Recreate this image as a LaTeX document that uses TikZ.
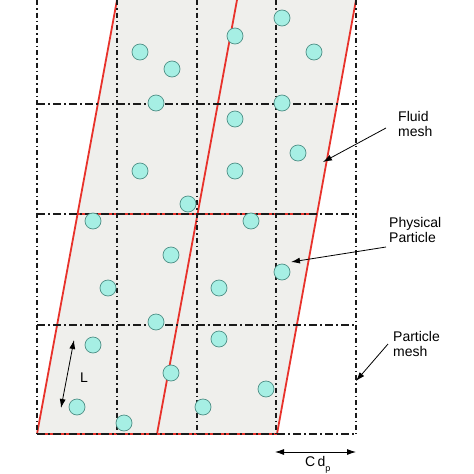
\documentclass[tikz,border=0pt]{standalone}
\usepackage{fontspec}
\setmainfont{Liberation Sans}
\usetikzlibrary{arrows.meta}
\definecolor{cellfill}{HTML}{EFEFEC}
\definecolor{partfill}{HTML}{A6EFE4}
\definecolor{partdraw}{HTML}{4E8F86}
\definecolor{meshred}{HTML}{E8322B}
\definecolor{gridcol}{HTML}{1A1A1A}
\begin{document}
\begin{tikzpicture}[x=1pt,y=-1pt,
 particle/.style={circle,draw=partdraw,fill=partfill,line width=0.7pt,minimum size=16pt,inner sep=0pt},
 hgrid/.style={gridcol,line width=1.3pt,dash pattern=on 8pt off 3pt on 2pt off 3pt},
 vgrid/.style={gridcol,line width=1.1pt,dash pattern=on 5pt off 3pt on 1.5pt off 3pt},
 fluidline/.style={meshred,line width=1.8pt},
 caption/.style={font=\fontsize{14}{15}\selectfont,align=left,inner sep=0pt,anchor=north west},
 pointer/.style={-{Latex[length=9pt,width=6pt]},line width=0.8pt},
 dimarrow/.style={{Latex[length=9pt,width=6pt]}-{Latex[length=9pt,width=6pt]},line width=0.8pt},
]
\useasboundingbox (0,0) rectangle (474,474);
% fluid region fill
\fill[cellfill] (37,434) -- (277,434) -- (356,0) -- (117,0) -- cycle;
% fluid mesh (red)
\draw[fluidline] (37,434) -- (117,0);
\draw[fluidline] (157,434) -- (237,0);
\draw[fluidline] (277,434) -- (356,0);
\draw[fluidline] (37,434) -- (277,434);
\draw[fluidline] (77.5,214) -- (317.5,214);
% particle mesh (black dash-dot)
\foreach \x in {37,117,197,276,356} \draw[vgrid] (\x,0) -- (\x,434);
\foreach \y in {104,214,325,434} \draw[hgrid] (37,\y) -- (356,\y);
% particles
\foreach \n/\px/\py in {1/282/18,2/235/36,3/140/52,4/314/52,5/172/69,6/156/103,7/282/103,8/235/119,9/298/153,10/140/171,11/235/171,12/188/204,13/93/221,14/251/221,15/171/255,16/282/272,17/108/288,18/219/288,19/156/322,20/93/345,21/219/339,22/171/373,23/77/407,24/203/407,25/266/389,26/124/423}
  \node[particle] (p\n) at (\px,\py) {};
% labels
\node[caption] (fluidlbl) at (398,111) {Fluid\\mesh};
\node[caption] (physlbl) at (389,217) {Physical\\Particle};
\node[caption] (meshlbl) at (393,331) {Particle\\mesh};
\coordinate (fs) at (386,128);
\coordinate (fe) at (323,162);
\coordinate (ps) at (386,247);
\coordinate (pe) at (291,262);
\coordinate (ms) at (388,344);
\coordinate (me) at (356,381);
\draw[pointer] (fs) -- (fe);
\draw[pointer] (ps) -- (pe);
\draw[pointer] (ms) -- (me);
% L dimension
\coordinate (La) at (74,340);
\coordinate (Lb) at (61,408);
\draw[dimarrow] (La) -- (Lb);
\node[font=\fontsize{14}{15}\selectfont,inner sep=0pt] (Llbl) at (84,378) {L};
% C d_p dimension
\coordinate (Ca) at (275,452);
\coordinate (Cb) at (356,452);
\draw[dimarrow] (Ca) -- (Cb);
\node[font=\fontsize{14}{15}\selectfont,inner sep=0pt,anchor=base west] (Clbl) at (305,466) {C\,d\raisebox{-5pt}{\fontsize{9}{9}\selectfont p}};
\end{tikzpicture}
\end{document}
